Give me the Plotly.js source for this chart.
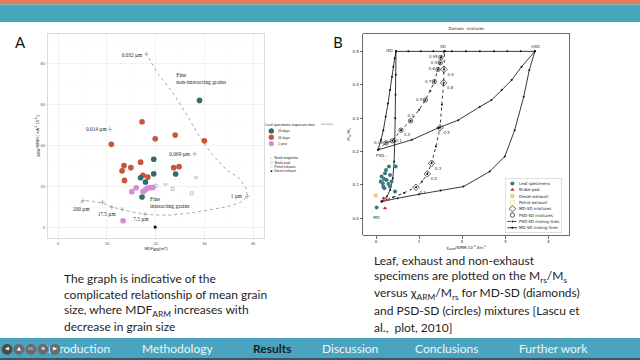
<!DOCTYPE html>
<html><head><meta charset="utf-8">
<script src="https://cdn.plot.ly/plotly-3.0.1.min.js"></script>
<style>
html,body{margin:0;padding:0;width:640px;height:360px;overflow:hidden;background:#fff}
#slide{position:absolute;left:0;top:0;width:640px;height:360px}
#chartA{position:absolute;left:30px;top:24px;width:870px;height:690px;transform:scale(0.333333);transform-origin:0 0}
#chartB{position:absolute;left:320px;top:23px;width:960px;height:693px;transform:scale(0.333333);transform-origin:0 0}
</style></head><body>
<div id="slide"></div><div id="chartA"></div><div id="chartB"></div>
<script>
// ================= Chart A data =================
const aTicksX = [0, 10, 20, 30, 40];
const aTicksY = [0, 20, 40, 60, 80];
const exposureNames = ['20 days', '26 days', '1 year'];
const days20X = [29.0, 19.6, 19.6, 24.1, 16.9, 17.9, 17.2];
const days20Y = [62.1, 33.4, 26.3, 26.2, 24.4, 22.3, 15.0];
const days26X = [17.2, 10.9, 19.9, 24.0, 30.0, 16.9, 13.5, 14.9, 13.1, 23.7, 24.8, 17.4, 18.4, 13.6];
const days26Y = [51.7, 40.7, 43.4, 45.2, 42.4, 32.0, 30.3, 29.3, 27.8, 29.3, 29.8, 25.6, 24.7, 23.1];
const year1X = [16.0, 15.1, 17.4, 17.9, 18.3, 18.9, 19.4, 13.3];
const year1Y = [19.5, 17.6, 17.6, 18.5, 19.3, 19.6, 19.6, 3.4];
const magnetiteLabels = ['0.032 µm', '0.014 µm', '0.069 µm', '1 µm', '200 µm', '', '17.5 µm', '', '7.5 µm'];
const magnetiteX = [18.1, 10.6, 28.0, 38.8, 5.1, 9.1, 11.0, 13.1, 17.8];
const magnetiteY = [84.7, 48.0, 36.0, 15.3, 13.2, 12.5, 10.0, 9.0, 6.6];
const magCurveX = [4.6, 5.3, 7.0, 9.1, 11.0, 13.1, 15.5, 17.8, 20.5, 23.0, 27.5, 30.7, 34.6, 37.2, 38.8, 38.6, 37.2, 34.6, 31.4, 28.8, 26.2, 23.6, 20.4, 18.1];
const magCurveY = [12.3, 13.3, 12.8, 12.0, 10.2, 8.8, 7.6, 6.6, 6.2, 6.2, 7.3, 8.6, 10.2, 12.2, 15.1, 19.0, 24.1, 28.1, 36.3, 45.2, 55.8, 65.6, 75.3, 84.7];
const brakeAX = [28.3, 22.0];
const brakeAY = [24.4, 21.0];
const petrolAX = [20.0, 23.5, 27.4];
const petrolAY = [20.5, 18.9, 16.8];
const dieselAX = [19.9];
const dieselAY = [0.3];
const sourceNames = ['Sized magnetite', 'Brake pad', 'Petrol exhaust', 'Diesel exhaust'];
const sourceGlyphs = ['+', '▽', '□', '■'];
const regionLabels = ['Fine<br>non-interacting grains', 'Fine<br>interacting grains'];
const regionX = [24.1, 18.7];
const regionY = [72.8, 12.1];

// ================= Chart B data =================
const bTicksX = [0, 1, 2, 3, 4];
const bTicksY = [0.0, 0.1, 0.2, 0.3, 0.4, 0.5];
const domainNames = ['ISD', 'SD', 'USD', 'PSD', 'MD'];
const domainX = [0.464, 1.593, 3.689, 0.046, 0.13];
const domainY = [0.5, 0.5, 0.5, 0.205, 0.05];
const leafBX = [0.30, 0.456, 0.209, 0.325, 0.186, 0.247, 0.155, 0.286, 0.325, 0.193, 0.44, 0.015, 0.13, 0.232, 0.17, 0.36, 0.108];
const leafBY = [0.155, 0.155, 0.135, 0.13, 0.118, 0.115, 0.105, 0.103, 0.095, 0.09, 0.08, 0.032, 0.125, 0.145, 0.095, 0.11, 0.11];
const brakeBX = [0.247, 0.209, 0.175];
const brakeBY = [0.055, 0.030, 0.060];
const dieselBX = [-0.008];
const dieselBY = [0.068];
const petrolBX = [0.209];
const petrolBY = [0.18];
const psdSdFrac = ['0.05', '0.1', '0.2', '0.3', '0.5', '0.7', '0.8', '0.9', '0.95'];
const psdSdX = [0.232, 0.379, 0.58, 0.804, 1.145, 1.353, 1.438, 1.492, 1.508];
const psdSdY = [0.226, 0.232, 0.264, 0.292, 0.354, 0.409, 0.446, 0.466, 0.482];
const mdSdFrac = ['0.1', '0.2', '0.3', '0.5', '0.8', '0.9'];
const mdSdX = [0.928, 1.19, 1.29, 1.485, 1.57, 1.578];
const mdSdY = [0.093, 0.133, 0.165, 0.271, 0.406, 0.446];
// mixing lines
const isdSdX = [0.464, 0.75, 1.04, 1.33, 1.593];
const isdSdY = [0.5, 0.5, 0.5, 0.5, 0.5];
const sdUsdX = [1.593, 1.76, 2.09, 2.41, 2.74, 3.05, 3.36, 3.689];
const sdUsdY = [0.5, 0.5, 0.5, 0.5, 0.5, 0.5, 0.5, 0.5];
const psdIsdX = [0.046, 0.116, 0.170, 0.224, 0.278, 0.325, 0.371, 0.402, 0.433, 0.464];
const psdIsdY = [0.205, 0.235, 0.264, 0.304, 0.344, 0.384, 0.424, 0.454, 0.479, 0.5];
const mdIsdX = [0.13, 0.25, 0.33, 0.39, 0.42, 0.435, 0.445, 0.452, 0.458, 0.464];
const mdIsdY = [0.05, 0.065, 0.085, 0.12, 0.17, 0.23, 0.30, 0.37, 0.43, 0.5];
const mdUsdX = [0.13, 0.5, 1.0, 1.5, 2.03, 2.64, 2.99, 3.22, 3.43, 3.56, 3.689];
const mdUsdY = [0.05, 0.06, 0.072, 0.083, 0.095, 0.14, 0.185, 0.264, 0.364, 0.444, 0.5];
const psdUsdX = [0.046, 0.83, 1.45, 1.91, 2.41, 2.68, 2.92, 3.15, 3.38, 3.689];
const psdUsdY = [0.205, 0.235, 0.271, 0.294, 0.334, 0.354, 0.384, 0.414, 0.454, 0.5];
const psdSdLineX = [0.046, 0.232, 0.379, 0.58, 0.804, 1.0, 1.145, 1.26, 1.353, 1.438, 1.492, 1.508, 1.593];
const psdSdLineY = [0.205, 0.226, 0.232, 0.264, 0.292, 0.325, 0.354, 0.382, 0.409, 0.446, 0.466, 0.482, 0.5];
const mdSdLineX = [0.13, 0.4, 0.65, 0.928, 1.07, 1.19, 1.29, 1.39, 1.485, 1.53, 1.57, 1.578, 1.593];
const mdSdLineY = [0.05, 0.063, 0.076, 0.093, 0.11, 0.133, 0.165, 0.215, 0.271, 0.34, 0.406, 0.446, 0.5];
const legendBNames = ['Leaf specimens', 'Brake pad', 'Diesel exhaust', 'Petrol exhaust', 'MD-SD mixtures', 'PSD-SD mixtures', 'PSD-SD mixing lines', 'MD-SD mixing lines'];

// ================= Slide text =================
const leftLines = ['The graph is indicative of the', 'complicated relationship of mean grain', 'size, where MDF<sub>ARM</sub> increases with', 'decrease in grain size'];
const rightLines = ['Leaf, exhaust and non-exhaust', 'specimens are plotted on the M<sub>rs</sub>/M<sub>s</sub>', 'versus χ<sub>ARM</sub>/M<sub>rs</sub> for MD-SD (diamonds)', 'and PSD-SD (circles) mixtures [Lascu et', 'al.,  plot, 2010]'];
const navLabels = ['Introduction', 'Methodology', 'Results', 'Discussion', 'Conclusions', 'Further work'];
const navCurrent = 'Results';

// ================= Slide figure =================
const navPos = [77, 177, 272, 350, 446, 553];
const iconPos = [7, 19, 31, 43, 55];
const iconGlyphs = ['◀', '▲', 'cc', '⊕', '▶'];
const slideAnn = [];
leftLines.forEach((t, i) => slideAnn.push({x: 62, y: 278 + i * 16, text: t, xanchor: 'left', yanchor: 'middle', showarrow: false, font: {family: 'Lato', size: 12, color: '#1e1e1e'}}));
rightLines.forEach((t, i) => slideAnn.push({x: 372, y: 260 + i * 16.8, text: t, xanchor: 'left', yanchor: 'middle', showarrow: false, font: {family: 'Lato', size: 12, color: '#1e1e1e'}}));
navLabels.forEach((t, i) => slideAnn.push({x: navPos[i], y: 348, text: t === navCurrent ? '<b>' + t + '</b>' : t, xanchor: 'center', yanchor: 'middle', showarrow: false, font: {family: 'Lato', size: 12, color: t === navCurrent ? '#1c1c1c' : '#eef6f9'}}));
iconPos.forEach((p, i) => slideAnn.push({x: p, y: 348, text: '●', xanchor: 'center', yanchor: 'middle', showarrow: false, font: {family: 'DejaVu Sans', size: 14, color: i === 0 ? '#4a4a4a' : '#6a6a6a'}}));
iconPos.forEach((p, i) => slideAnn.push({x: p, y: 348, text: iconGlyphs[i], xanchor: 'center', yanchor: 'middle', showarrow: false, font: {family: 'DejaVu Sans', size: 5, color: '#ffffff'}}));
slideAnn.push({x: 20, y: 42, text: 'A', xanchor: 'center', yanchor: 'middle', showarrow: false, font: {family: 'Lato', size: 15, color: '#111'}});

Plotly.newPlot('slide', [], {
  width: 640, height: 360, margin: {l: 0, r: 0, t: 0, b: 0},
  paper_bgcolor: '#ffffff', plot_bgcolor: '#ffffff',
  xaxis: {range: [0, 640], visible: false, fixedrange: true},
  yaxis: {range: [360, 0], visible: false, fixedrange: true},
  shapes: [
    {type: 'rect', x0: 0, x1: 640, y0: 0, y1: 4.5, fillcolor: '#e17a58', line: {width: 0}, layer: 'below'},
    {type: 'rect', x0: 0, x1: 640, y0: 4.5, y1: 22, fillcolor: '#46a6be', line: {width: 0}, layer: 'below'},
    {type: 'rect', x0: 0, x1: 640, y0: 338, y1: 358, fillcolor: '#4aa4bf', line: {width: 0}, layer: 'below'},
    {type: 'rect', x0: 0, x1: 640, y0: 358, y1: 360, fillcolor: '#3d5560', line: {width: 0}, layer: 'below'}
  ],
  annotations: slideAnn, showlegend: false
}, {staticPlot: true});

// ================= Chart A figure =================
const teal = '#2d6d6e', orange = '#c9553b', pink = '#d98bd9', grey = '#a6a6a6';
const tracesA = [
  {x: magCurveX, y: magCurveY, type: 'scatter', mode: 'lines', line: {color: grey, width: 3, dash: 'dash'}, showlegend: false, hoverinfo: 'skip'},
  {x: magnetiteX, y: magnetiteY, type: 'scatter', mode: 'markers', marker: {symbol: 'cross-thin-open', size: 10, color: '#9a9a9a', line: {color: '#9a9a9a', width: 2}}, showlegend: false},
  {x: brakeAX, y: brakeAY, type: 'scatter', mode: 'markers', marker: {symbol: 'triangle-down-open', size: 10, color: grey, line: {color: grey, width: 2}}, showlegend: false},
  {x: petrolAX, y: petrolAY, type: 'scatter', mode: 'markers', marker: {symbol: 'square-open', size: 9, color: grey, line: {color: grey, width: 2}}, showlegend: false},
  {x: dieselAX, y: dieselAY, type: 'scatter', mode: 'markers', marker: {symbol: 'square', size: 8, color: '#000'}, showlegend: false},
  {x: days26X, y: days26Y, name: exposureNames[1], type: 'scatter', mode: 'markers', marker: {size: 17, color: orange}, legendrank: 2},
  {x: days20X, y: days20Y, name: exposureNames[0], type: 'scatter', mode: 'markers', marker: {size: 17, color: teal}, legendrank: 1},
  {x: year1X, y: year1Y, name: exposureNames[2], type: 'scatter', mode: 'markers', marker: {size: 17, color: pink}, legendrank: 3}
];
const magShift = [[-10, -5, 'right'], [-8, 0, 'right'], [-12, 0, 'right'], [-14, 0, 'right'], [-5, -26, 'center'], [0, 0, 'center'], [-15, -21, 'center'], [0, 0, 'center'], [-12, -15, 'center']];
const annA = [];
magnetiteLabels.forEach((t, i) => { if (t) annA.push({x: magnetiteX[i], y: magnetiteY[i], xref: 'x', yref: 'y', text: t, showarrow: false, xanchor: magShift[i][2], yanchor: 'middle', xshift: magShift[i][0], yshift: magShift[i][1], font: {family: 'Liberation Serif', size: 16, color: '#2a2a2a'}}); });
regionLabels.forEach((t, i) => annA.push({x: regionX[i], y: regionY[i], xref: 'x', yref: 'y', text: t, showarrow: false, xanchor: 'left', yanchor: 'middle', align: 'left', font: {family: 'Liberation Serif', size: 17, color: '#2a2a2a'}}));
annA.push({x: 1.025, y: 0.36, xref: 'paper', yref: 'paper', xanchor: 'left', yanchor: 'middle', align: 'left', showarrow: false,
  text: sourceNames.map((n, i) => '<span style="color:' + (i === 3 ? '#000' : '#8a8a8a') + '">' + sourceGlyphs[i] + '</span>  ' + n).join('<br>'),
  font: {family: 'Liberation Sans, DejaVu Sans', size: 10, color: '#222'}});

const axisA = {showgrid: true, gridcolor: '#ebebeb', gridwidth: 2, zeroline: false, showline: true, linecolor: '#c9c9c9', linewidth: 2, mirror: true,
  ticks: 'outside', ticklen: 5, tickwidth: 2, tickcolor: '#bdbdbd', tickfont: {size: 12, color: '#555'}};
Plotly.newPlot('chartA', tracesA, {
  width: 870, height: 690, margin: {l: 54, r: 132, t: 30, b: 48},
  paper_bgcolor: '#ffffff', plot_bgcolor: '#ffffff',
  font: {family: 'Liberation Sans, Arial, sans-serif', size: 12, color: '#222'},
  xaxis: Object.assign({}, axisA, {range: [-2.1, 42.3], tickmode: 'linear', tick0: 0, dtick: 10,
    minor: {dtick: 5, showgrid: true, gridcolor: '#f4f4f4', gridwidth: 1},
    title: {text: 'MDF<sub>ARM</sub>(mT)', standoff: 3, font: {size: 12, color: '#222'}}}),
  yaxis: Object.assign({}, axisA, {range: [-5, 94.5], tickmode: 'linear', tick0: 0, dtick: 20,
    minor: {dtick: 10, showgrid: true, gridcolor: '#f4f4f4', gridwidth: 1},
    title: {text: 'χ<sub>ARM</sub>/SIRM ( mA<sup>-1</sup> 10<sup>-5</sup> )', standoff: 2, font: {size: 12, color: '#222'}}}),
  showlegend: true,
  legend: {x: 1.0015, xanchor: 'left', y: 0.572, yanchor: 'top', traceorder: 'normal', itemwidth: 30,
    title: {text: 'Leaf specimens exposure time', font: {size: 11, color: '#222'}},
    font: {size: 10, color: '#222'}, bgcolor: 'rgba(0,0,0,0)'},
  annotations: annA
}, {staticPlot: true});

// ================= Chart B figure =================
const leafC = '#3b7b7d', brakeC = '#b23e3c', dieselC = '#e6d27c', petrolC = '#efe3a2';
const solidLine = {color: '#111', width: 2.5};
const dashLine = {color: '#111', width: 2.5, dash: 'dash'};
const dot = {size: 6, color: '#111'};
function mixLine(x, y, dashed, first) {
  return {x: x, y: y, type: 'scatter', mode: 'lines+markers', line: dashed ? dashLine : solidLine, marker: dot,
    name: dashed ? legendBNames[6] : legendBNames[7], legendgroup: dashed ? 'psd' : 'md', showlegend: !!first,
    legendrank: dashed ? 7 : 8, hoverinfo: 'skip'};
}
const tracesB = [
  mixLine(isdSdX, isdSdY, false, true),
  mixLine(sdUsdX, sdUsdY, false),
  mixLine(psdIsdX, psdIsdY, false),
  mixLine(mdIsdX, mdIsdY, false),
  mixLine(mdUsdX, mdUsdY, false),
  mixLine(psdUsdX, psdUsdY, false),
  mixLine(psdSdLineX, psdSdLineY, true, true),
  mixLine(mdSdLineX, mdSdLineY, true),
  {x: psdSdX, y: psdSdY, text: psdSdFrac, type: 'scatter', mode: 'markers+text', name: legendBNames[5], legendrank: 6,
    textposition: ['middle left', 'middle right', 'bottom right', 'top center', 'middle left', 'middle left', 'middle left', 'middle left', 'middle left'],
    textfont: {size: 12, color: '#333'}, marker: {symbol: 'circle-open', size: 13, color: '#111', line: {width: 2}}},
  {x: mdSdX, y: mdSdY, text: mdSdFrac, type: 'scatter', mode: 'markers+text', name: legendBNames[4], legendrank: 5,
    textposition: 'bottom right', textfont: {size: 12, color: '#333'},
    marker: {symbol: 'diamond-open', size: 15, color: '#111', line: {width: 2}}},
  {x: leafBX, y: leafBY, type: 'scatter', mode: 'markers', name: legendBNames[0], legendrank: 1, marker: {size: 12, color: leafC}},
  {x: brakeBX, y: brakeBY, type: 'scatter', mode: 'markers', name: legendBNames[1], legendrank: 2, marker: {symbol: 'triangle-up', size: 12, color: brakeC}},
  {x: dieselBX, y: dieselBY, type: 'scatter', mode: 'markers', name: legendBNames[2], legendrank: 3, marker: {symbol: 'square', size: 12, color: dieselC}},
  {x: petrolBX, y: petrolBY, type: 'scatter', mode: 'markers', name: legendBNames[3], legendrank: 4, marker: {symbol: 'square-open', size: 12, color: petrolC, line: {color: petrolC, width: 2}}}
];
const domainShift = [[-8, 1, 'right', 'middle'], [-4, 6, 'center', 'bottom'], [2, 6, 'center', 'bottom'], [6, -16, 'center', 'middle'], [-15, -47, 'center', 'middle']];
const annB = domainNames.map((n, i) => ({x: domainX[i], y: domainY[i], xref: 'x', yref: 'y', text: n, showarrow: false,
  xshift: domainShift[i][0], yshift: domainShift[i][1], xanchor: domainShift[i][2], yanchor: domainShift[i][3], font: {size: 12, color: '#333'}}));
annB.push({x: -0.123, y: 0.96, xref: 'paper', yref: 'paper', text: 'B', showarrow: false, xanchor: 'center', yanchor: 'middle', font: {family: 'Lato', size: 44, color: '#111'}});
annB.push({x: 0, y: 0.552, xref: 'paper', yref: 'paper', text: 'ure lines', showarrow: false, xanchor: 'left', yanchor: 'middle', xshift: -128, font: {size: 8, color: '#555'}});

const axisB = {showgrid: false, zeroline: false, showline: true, mirror: true, linecolor: '#222', linewidth: 2,
  ticks: 'outside', ticklen: 9, tickwidth: 2, tickcolor: '#222', tickfont: {size: 12, color: '#222'}};
Plotly.newPlot('chartB', tracesB, {
  width: 960, height: 693, margin: {l: 130, r: 212, t: 33, b: 57},
  paper_bgcolor: '#ffffff', plot_bgcolor: '#ffffff',
  font: {family: 'DejaVu Sans, sans-serif', size: 12, color: '#222'},
  title: {text: 'Domain  mixtures', x: 0.5, xref: 'paper', y: 1 - 18 / 693, yanchor: 'middle', font: {size: 12, color: '#222'}},
  xaxis: Object.assign({}, axisB, {range: [-0.295, 4.49], tickvals: bTicksX, ticktext: bTicksX.map(String),
    title: {text: 'χ<sub>ARM</sub>/SIRM 10<sup>-3</sup> Am<sup>-1</sup>', standoff: 4, font: {size: 12}}}),
  yaxis: Object.assign({}, axisB, {range: [-0.05, 0.552], tickvals: bTicksY, ticktext: bTicksY.map(v => v.toFixed(1)),
    title: {text: 'M<sub>rs</sub>/M<sub>s</sub>', standoff: 4, font: {size: 12}}}),
  showlegend: true,
  legend: {x: 0.688, xanchor: 'left', y: 0.284, yanchor: 'top', traceorder: 'normal', itemwidth: 30,
    font: {size: 12, color: '#222'}, bgcolor: 'rgba(255,255,255,0.9)', bordercolor: '#cfcfcf', borderwidth: 2},
  annotations: annB
}, {staticPlot: true});
</script></body></html>
